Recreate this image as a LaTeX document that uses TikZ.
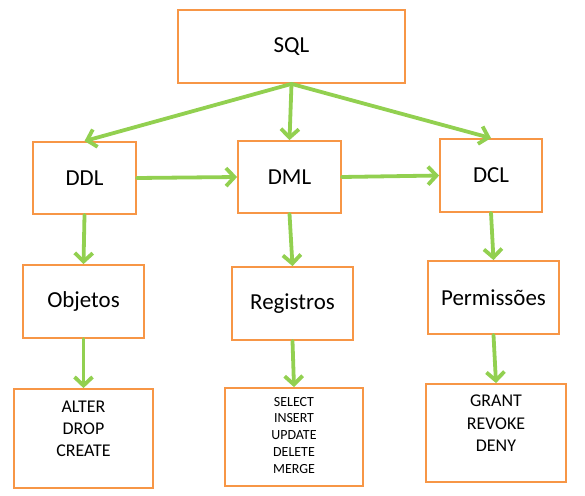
\documentclass[tikz,border=0pt]{standalone}
\usepackage{fontspec}
\setmainfont{Carlito}
\usetikzlibrary{arrows.meta}
\definecolor{boxorange}{HTML}{F79646}
\definecolor{arrgreen}{HTML}{92D050}
\begin{document}
\begin{tikzpicture}[x=1bp,y=-1bp,
  box/.style={draw=boxorange, line width=1.8bp, fill=white, inner sep=0pt, align=center, font=\fontsize{23}{27}\selectfont},
  conn/.style={draw=arrgreen, line width=3.8bp, line cap=round, -{Straight Barb[length=8.5bp,width=18bp]}}
]
\useasboundingbox (0,0) rectangle (585,496);
% top
\node[box, minimum width=227bp, minimum height=73bp] (sql) at (291.5,46.5) {SQL};
% second row
\node[box, minimum width=103bp, minimum height=72bp] (ddl) at (84.5,178) {DDL};
\node[box, minimum width=103bp, minimum height=72bp] (dml) at (289.5,177) {DML};
\node[box, minimum width=102bp, minimum height=73bp] (dcl) at (491,175.5) {DCL};
% third row
\node[box, minimum width=121bp, minimum height=73bp] (obj) at (83.5,301.5) {Objetos};
\node[box, minimum width=121bp, minimum height=73bp] (reg) at (292.5,303.5) {Registros};
\node[box, minimum width=131bp, minimum height=73bp] (perm) at (493.5,297.5) {Permissões};
% bottom row
\node[box] (ddlcmd) at (83.5,438.5) {\begin{minipage}[c][99bp][t]{139bp}\centering\fontsize{18}{22.5}\selectfont\vspace*{11.5bp}ALTER\\DROP\\CREATE\end{minipage}};
\node[box] (dmlcmd) at (294,437) {\begin{minipage}[c][98bp][t]{138bp}\centering\fontsize{14}{16.8}\selectfont\vspace*{9bp}SELECT\\INSERT\\UPDATE\\DELETE\\MERGE\end{minipage}};
\node[box] (dclcmd) at (496,433) {\begin{minipage}[c][98bp][t]{140bp}\centering\fontsize{18}{23}\selectfont\vspace*{10.5bp}GRANT\\REVOKE\\DENY\end{minipage}};
% connectors
\draw[conn] (sql.south) -- (ddl.north);
\draw[conn] (sql.south) -- (dml.north);
\draw[conn] (sql.south) -- (dcl.north);
\draw[conn] (ddl.east) -- (dml.west);
\draw[conn] (dml.east) -- (dcl.west);
\draw[conn] (ddl.south) -- (obj.north);
\draw[conn] (dml.south) -- (reg.north);
\draw[conn] (dcl.south) -- (perm.north);
\draw[conn] (obj.south) -- (ddlcmd.north);
\draw[conn] (reg.south) -- (dmlcmd.north);
\draw[conn] (perm.south) -- (dclcmd.north);
\end{tikzpicture}
\end{document}
